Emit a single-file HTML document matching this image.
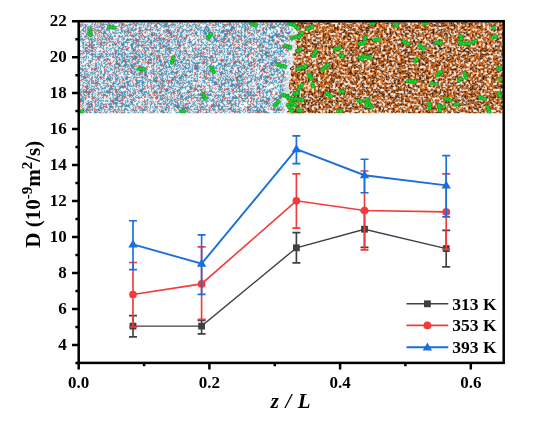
<!DOCTYPE html>
<html lang="en"><head><meta charset="utf-8"><title>D vs z / L</title>
<style>html,body{margin:0;padding:0;background:#fff}svg{display:block}</style></head>
<body>
<svg width="550" height="422" viewBox="0 0 550 422">
<rect x="0" y="0" width="550" height="422" fill="#ffffff"/>
<filter id="fw" x="0" y="0" width="1" height="1" color-interpolation-filters="sRGB"><feTurbulence type="fractalNoise" baseFrequency="0.66" numOctaves="1" seed="3"/><feColorMatrix type="matrix" values="1 0 0 0 0 1 0 0 0 0 1 0 0 0 0 0 0 0 0 1"/><feComponentTransfer><feFuncR type="discrete" tableValues="0.14 0.14 0.14 0.14 0.14 0.14 0.14 0.14 0.14 0.14 0.14 0.14 0.14 0.14 0.14 0.14 0.14 0.14 0.14 0.14 0.14 0.14 0.14 0.14 0.14 0.14 0.14 0.14 0.14 0.14 0.14 0.14 0.14 0.14 0.14 0.14 0.14 0.14 0.14 0.14 0.14 0.14 0.14 0.14 0.14 0.24 1 1 1 1 1 1 1 1 1 1 1 1 1 1 0.97 0.85 0.85 0.85 0.85 0.85 0.85 0.85 0.85 0.85 0.85 0.85 0.85 0.85 0.85 0.85 0.85 0.85 0.85 0.85 0.85 0.85 0.85 0.85 0.85 0.85 0.85 0.85 0.85 0.85 0.85 0.85 0.85 0.85 0.85 0.85 0.85 0.85 0.85 0.85"/><feFuncG type="discrete" tableValues="0.58 0.58 0.58 0.58 0.58 0.58 0.58 0.58 0.58 0.58 0.58 0.58 0.58 0.58 0.58 0.58 0.58 0.58 0.58 0.58 0.58 0.58 0.58 0.58 0.58 0.58 0.58 0.58 0.58 0.58 0.58 0.58 0.58 0.58 0.58 0.58 0.58 0.58 0.58 0.58 0.58 0.58 0.58 0.58 0.58 0.63 1 1 1 1 1 1 1 1 1 1 1 1 1 1 0.85 0.29 0.29 0.29 0.29 0.29 0.29 0.29 0.29 0.29 0.29 0.29 0.29 0.29 0.29 0.29 0.29 0.29 0.29 0.29 0.29 0.29 0.29 0.29 0.29 0.29 0.29 0.29 0.29 0.29 0.29 0.29 0.29 0.29 0.29 0.29 0.29 0.29 0.29 0.29"/><feFuncB type="discrete" tableValues="0.75 0.75 0.75 0.75 0.75 0.75 0.75 0.75 0.75 0.75 0.75 0.75 0.75 0.75 0.75 0.75 0.75 0.75 0.75 0.75 0.75 0.75 0.75 0.75 0.75 0.75 0.75 0.75 0.75 0.75 0.75 0.75 0.75 0.75 0.75 0.75 0.75 0.75 0.75 0.75 0.75 0.75 0.75 0.75 0.75 0.78 1 1 1 1 1 1 1 1 1 1 1 1 1 1 0.84 0.27 0.27 0.27 0.27 0.27 0.27 0.27 0.27 0.27 0.27 0.27 0.27 0.27 0.27 0.27 0.27 0.27 0.27 0.27 0.27 0.27 0.27 0.27 0.27 0.27 0.27 0.27 0.27 0.27 0.27 0.27 0.27 0.27 0.27 0.27 0.27 0.27 0.27 0.27"/></feComponentTransfer><feConvolveMatrix order="3" preserveAlpha="true" edgeMode="duplicate" kernelMatrix="0.036 0.084 0.036 0.084 0.520 0.084 0.036 0.084 0.036"/></filter>
<filter id="fo" x="0" y="0" width="1" height="1" color-interpolation-filters="sRGB"><feTurbulence type="fractalNoise" baseFrequency="0.72" numOctaves="1" seed="11"/><feColorMatrix type="matrix" values="1 0 0 0 0 1 0 0 0 0 1 0 0 0 0 0 0 0 0 1"/><feComponentTransfer result="A"><feFuncR type="discrete" tableValues="0.09 0.09 0.09 0.09 0.09 0.09 0.09 0.09 0.09 0.09 0.09 0.09 0.09 0.09 0.09 0.09 0.09 0.09 0.09 0.09 0.09 0.09 0.09 0.09 0.09 0.09 0.09 0.09 0.09 0.09 0.09 0.09 0.09 0.09 0.09 0.09 0.09 0.09 0.09 0.09 0.09 0.09 0.09 0.52 1 1 1 1 1 1 1 1 1 1 1 1 1 1 1 1 1 1 1 1 1 1 1 1 1 1 1 1 1 1 1 1 1 1 1 1 1 1 1 1 1 1 1 1 1 1 1 1 1 1 1 1 1 1 1 1"/><feFuncG type="discrete" tableValues="0.06 0.06 0.06 0.06 0.06 0.06 0.06 0.06 0.06 0.06 0.06 0.06 0.06 0.06 0.06 0.06 0.06 0.06 0.06 0.06 0.06 0.06 0.06 0.06 0.06 0.06 0.06 0.06 0.06 0.06 0.06 0.06 0.06 0.06 0.06 0.06 0.06 0.06 0.06 0.06 0.06 0.06 0.06 0.5 1 1 1 1 1 1 1 1 1 1 1 1 1 1 1 1 1 1 1 1 1 1 1 1 1 1 1 1 1 1 1 1 1 1 1 1 1 1 1 1 1 1 1 1 1 1 1 1 1 1 1 1 1 1 1 1"/><feFuncB type="discrete" tableValues="0.03 0.03 0.03 0.03 0.03 0.03 0.03 0.03 0.03 0.03 0.03 0.03 0.03 0.03 0.03 0.03 0.03 0.03 0.03 0.03 0.03 0.03 0.03 0.03 0.03 0.03 0.03 0.03 0.03 0.03 0.03 0.03 0.03 0.03 0.03 0.03 0.03 0.03 0.03 0.03 0.03 0.03 0.03 0.49 1 1 1 1 1 1 1 1 1 1 1 1 1 1 1 1 1 1 1 1 1 1 1 1 1 1 1 1 1 1 1 1 1 1 1 1 1 1 1 1 1 1 1 1 1 1 1 1 1 1 1 1 1 1 1 1"/></feComponentTransfer><feTurbulence type="fractalNoise" baseFrequency="0.48" numOctaves="1" seed="5"/><feColorMatrix type="matrix" values="1 0 0 0 0 1 0 0 0 0 1 0 0 0 0 0 0 0 0 1" result="nB"/><feComponentTransfer in="nB" result="B"><feFuncR type="discrete" tableValues="0.84 0.84 0.84 0.84 0.84 0.84 0.84 0.84 0.84 0.84 0.84 0.84 0.84 0.84 0.84 0.84 0.84 0.84 0.84 0.84 0.84 0.84 0.84 0.84 0.84 0.84 0.84 0.84 0.84 0.84 0.84 0.84 0.84 0.84 0.84 0.84 0.84 0.84 0.84 0.84 0.84 0.84 0.84 0.84 0.84 0.84 0.84 0.84 0.84 0.84 0.84 0.84 0.84 0.84 0.84 0.95 1 1 1 1 1 1 1 1 1 1 1 1 1 1 1 1 1 1 1 1 1 1 1 1 1 1 1 1 1 1 1 1 1 1 1 1 1 1 1 1 1 1 1 1"/><feFuncG type="discrete" tableValues="0.42 0.42 0.42 0.42 0.42 0.42 0.42 0.42 0.42 0.42 0.42 0.42 0.42 0.42 0.42 0.42 0.42 0.42 0.42 0.42 0.42 0.42 0.42 0.42 0.42 0.42 0.42 0.42 0.42 0.42 0.42 0.42 0.42 0.42 0.42 0.42 0.42 0.42 0.42 0.42 0.42 0.42 0.42 0.42 0.42 0.42 0.42 0.42 0.42 0.42 0.42 0.42 0.42 0.42 0.42 0.83 1 1 1 1 1 1 1 1 1 1 1 1 1 1 1 1 1 1 1 1 1 1 1 1 1 1 1 1 1 1 1 1 1 1 1 1 1 1 1 1 1 1 1 1"/><feFuncB type="discrete" tableValues="0.12 0.12 0.12 0.12 0.12 0.12 0.12 0.12 0.12 0.12 0.12 0.12 0.12 0.12 0.12 0.12 0.12 0.12 0.12 0.12 0.12 0.12 0.12 0.12 0.12 0.12 0.12 0.12 0.12 0.12 0.12 0.12 0.12 0.12 0.12 0.12 0.12 0.12 0.12 0.12 0.12 0.12 0.12 0.12 0.12 0.12 0.12 0.12 0.12 0.12 0.12 0.12 0.12 0.12 0.12 0.74 1 1 1 1 1 1 1 1 1 1 1 1 1 1 1 1 1 1 1 1 1 1 1 1 1 1 1 1 1 1 1 1 1 1 1 1 1 1 1 1 1 1 1 1"/></feComponentTransfer><feComponentTransfer in="nB" result="M"><feFuncR type="discrete" tableValues="0 0 0 0 0 0 0 0 0 0 0 0 0 0 0 0 0 0 0 0 0 0 0 0 0 0 0 0 0 0 0 0 0 0 0 0 0 0 0 0 0 0 0 0 0 0 0 0 0 0 0 0 0 0 0 0 0 0 0 0.78 1 1 1 1 1 1 1 1 1 1 1 1 1 1 1 1 1 1 1 1 1 1 1 1 1 1 1 1 1 1 1 1 1 1 1 1 1 1 1 1"/><feFuncG type="discrete" tableValues="0 0 0 0 0 0 0 0 0 0 0 0 0 0 0 0 0 0 0 0 0 0 0 0 0 0 0 0 0 0 0 0 0 0 0 0 0 0 0 0 0 0 0 0 0 0 0 0 0 0 0 0 0 0 0 0 0 0 0 0.78 1 1 1 1 1 1 1 1 1 1 1 1 1 1 1 1 1 1 1 1 1 1 1 1 1 1 1 1 1 1 1 1 1 1 1 1 1 1 1 1"/><feFuncB type="discrete" tableValues="0 0 0 0 0 0 0 0 0 0 0 0 0 0 0 0 0 0 0 0 0 0 0 0 0 0 0 0 0 0 0 0 0 0 0 0 0 0 0 0 0 0 0 0 0 0 0 0 0 0 0 0 0 0 0 0 0 0 0 0.78 1 1 1 1 1 1 1 1 1 1 1 1 1 1 1 1 1 1 1 1 1 1 1 1 1 1 1 1 1 1 1 1 1 1 1 1 1 1 1 1"/></feComponentTransfer><feBlend in="A" in2="B" mode="multiply" result="AB"/><feBlend in="AB" in2="M" mode="lighten"/><feConvolveMatrix order="3" preserveAlpha="true" edgeMode="duplicate" kernelMatrix="0.037 0.087 0.037 0.087 0.500 0.087 0.037 0.087 0.037"/></filter>
<clipPath id="co"><polygon points="296.1,20.2 293.7,22.2 293.7,24.2 295.2,26.2 295.0,28.2 296.1,30.2 298.3,32.2 297.4,34.2 295.6,36.2 296.1,38.2 295.5,40.2 294.4,42.2 296.1,44.2 297.3,46.2 295.7,48.2 295.2,50.2 294.9,52.2 292.6,54.2 292.2,56.2 294.1,58.2 293.8,60.2 293.0,62.2 293.6,64.2 292.1,66.2 289.7,68.2 290.4,70.2 291.3,72.2 290.6,74.2 291.5,76.2 292.1,78.2 289.6,80.2 288.4,82.2 289.2,84.2 288.6,86.2 288.6,88.2 290.7,90.2 290.3,92.2 288.2,94.2 288.2,96.2 287.8,98.2 286.5,100.2 288.0,102.2 289.8,104.2 288.7,106.2 288.2,108.2 288.5,110.2 286.6,112.2 285.9,114.2 288.2,116.2 288.3,116.3 506.0,116.3 506.0,19.2"/></clipPath>
<clipPath id="cp"><rect x="79.5" y="22.2" width="423.5" height="91.1"/></clipPath>
<g clip-path="url(#cp)">
<rect x="78" y="20" width="224" height="96" fill="#a8bac6" filter="url(#fw)"/>
<polyline points="296.1,20.2 293.7,22.2 293.7,24.2 295.2,26.2 295.0,28.2 296.1,30.2 298.3,32.2 297.4,34.2 295.6,36.2 296.1,38.2 295.5,40.2 294.4,42.2 296.1,44.2 297.3,46.2 295.7,48.2 295.2,50.2 294.9,52.2 292.6,54.2 292.2,56.2 294.1,58.2 293.8,60.2 293.0,62.2 293.6,64.2 292.1,66.2 289.7,68.2 290.4,70.2 291.3,72.2 290.6,74.2 291.5,76.2 292.1,78.2 289.6,80.2 288.4,82.2 289.2,84.2 288.6,86.2 288.6,88.2 290.7,90.2 290.3,92.2 288.2,94.2 288.2,96.2 287.8,98.2 286.5,100.2 288.0,102.2 289.8,104.2 288.7,106.2 288.2,108.2 288.5,110.2 286.6,112.2 285.9,114.2 288.2,116.2" fill="none" stroke="#fff" stroke-opacity="0.42" stroke-width="11"/>
<polyline points="296.1,20.2 293.7,22.2 293.7,24.2 295.2,26.2 295.0,28.2 296.1,30.2 298.3,32.2 297.4,34.2 295.6,36.2 296.1,38.2 295.5,40.2 294.4,42.2 296.1,44.2 297.3,46.2 295.7,48.2 295.2,50.2 294.9,52.2 292.6,54.2 292.2,56.2 294.1,58.2 293.8,60.2 293.0,62.2 293.6,64.2 292.1,66.2 289.7,68.2 290.4,70.2 291.3,72.2 290.6,74.2 291.5,76.2 292.1,78.2 289.6,80.2 288.4,82.2 289.2,84.2 288.6,86.2 288.6,88.2 290.7,90.2 290.3,92.2 288.2,94.2 288.2,96.2 287.8,98.2 286.5,100.2 288.0,102.2 289.8,104.2 288.7,106.2 288.2,108.2 288.5,110.2 286.6,112.2 285.9,114.2 288.2,116.2" fill="none" stroke="#fff" stroke-opacity="0.5" stroke-width="5"/>
<g clip-path="url(#co)"><rect x="284" y="20" width="222" height="96" fill="#ad8353" filter="url(#fo)"/></g>
</g>
<g fill="#16dc2c" stroke="#128c22" stroke-width="0.6" clip-path="url(#cp)">
<circle cx="90.4" cy="29.9" r="1.9"/>
<circle cx="90.4" cy="32.4" r="1.9"/>
<circle cx="90.4" cy="34.9" r="1.9"/>
<circle cx="109.4" cy="27.2" r="1.9"/>
<circle cx="111.8" cy="27.4" r="1.9"/>
<circle cx="114.2" cy="27.6" r="1.9"/>
<circle cx="139.1" cy="68.9" r="1.9"/>
<circle cx="141.5" cy="69.1" r="1.9"/>
<circle cx="143.9" cy="69.3" r="1.9"/>
<circle cx="79.9" cy="112.6" r="1.9"/>
<circle cx="82.1" cy="111.4" r="1.9"/>
<circle cx="208.2" cy="38.2" r="1.9"/>
<circle cx="209.6" cy="36.2" r="1.9"/>
<circle cx="211.0" cy="34.2" r="1.9"/>
<circle cx="171.9" cy="62.5" r="1.9"/>
<circle cx="172.5" cy="60.1" r="1.9"/>
<circle cx="173.1" cy="57.7" r="1.9"/>
<circle cx="211.6" cy="67.8" r="1.9"/>
<circle cx="212.6" cy="70.0" r="1.9"/>
<circle cx="213.6" cy="72.2" r="1.9"/>
<circle cx="202.8" cy="94.4" r="1.9"/>
<circle cx="204.0" cy="96.5" r="1.9"/>
<circle cx="205.2" cy="98.6" r="1.9"/>
<circle cx="181.4" cy="111.5" r="1.9"/>
<circle cx="183.8" cy="111.5" r="1.9"/>
<circle cx="251.4" cy="23.3" r="1.9"/>
<circle cx="253.5" cy="24.5" r="1.9"/>
<circle cx="255.6" cy="25.7" r="1.9"/>
<circle cx="278.0" cy="64.7" r="1.9"/>
<circle cx="280.3" cy="65.4" r="1.9"/>
<circle cx="282.7" cy="66.0" r="1.9"/>
<circle cx="285.0" cy="66.7" r="1.9"/>
<circle cx="275.0" cy="105.2" r="1.9"/>
<circle cx="276.7" cy="103.5" r="1.9"/>
<circle cx="278.4" cy="101.8" r="1.9"/>
<circle cx="285.4" cy="45.8" r="1.9"/>
<circle cx="287.7" cy="46.6" r="1.9"/>
<circle cx="290.0" cy="47.4" r="1.9"/>
<circle cx="288.6" cy="23.6" r="1.9"/>
<circle cx="291.0" cy="24.0" r="1.9"/>
<circle cx="293.4" cy="24.4" r="1.9"/>
<circle cx="294.1" cy="25.2" r="1.9"/>
<circle cx="296.0" cy="26.8" r="1.9"/>
<circle cx="297.9" cy="28.4" r="1.9"/>
<circle cx="291.7" cy="38.3" r="1.9"/>
<circle cx="294.0" cy="37.5" r="1.9"/>
<circle cx="296.3" cy="36.7" r="1.9"/>
<circle cx="298.9" cy="36.9" r="1.9"/>
<circle cx="300.5" cy="35.0" r="1.9"/>
<circle cx="302.1" cy="33.1" r="1.9"/>
<circle cx="298.1" cy="50.4" r="1.9"/>
<circle cx="300.3" cy="49.2" r="1.9"/>
<circle cx="282.6" cy="95.1" r="1.9"/>
<circle cx="285.0" cy="95.5" r="1.9"/>
<circle cx="287.4" cy="95.9" r="1.9"/>
<circle cx="287.5" cy="97.2" r="1.9"/>
<circle cx="289.8" cy="98.1" r="1.9"/>
<circle cx="292.2" cy="98.9" r="1.9"/>
<circle cx="294.5" cy="99.8" r="1.9"/>
<circle cx="295.4" cy="98.9" r="1.9"/>
<circle cx="297.8" cy="99.3" r="1.9"/>
<circle cx="300.2" cy="99.7" r="1.9"/>
<circle cx="302.6" cy="100.1" r="1.9"/>
<circle cx="290.9" cy="102.8" r="1.9"/>
<circle cx="293.0" cy="104.0" r="1.9"/>
<circle cx="295.1" cy="105.2" r="1.9"/>
<circle cx="287.9" cy="104.9" r="1.9"/>
<circle cx="289.1" cy="107.1" r="1.9"/>
<circle cx="291.3" cy="108.3" r="1.9"/>
<circle cx="291.7" cy="110.7" r="1.9"/>
<circle cx="298.2" cy="110.5" r="1.9"/>
<circle cx="300.6" cy="110.5" r="1.9"/>
<circle cx="294.8" cy="93.7" r="1.9"/>
<circle cx="297.2" cy="93.3" r="1.9"/>
<circle cx="307.8" cy="29.0" r="1.9"/>
<circle cx="310.0" cy="28.0" r="1.9"/>
<circle cx="312.2" cy="27.0" r="1.9"/>
<circle cx="313.3" cy="55.6" r="1.9"/>
<circle cx="314.5" cy="53.5" r="1.9"/>
<circle cx="315.7" cy="51.4" r="1.9"/>
<circle cx="334.9" cy="49.0" r="1.9"/>
<circle cx="337.3" cy="48.6" r="1.9"/>
<circle cx="339.7" cy="48.2" r="1.9"/>
<circle cx="340.3" cy="55.4" r="1.9"/>
<circle cx="342.7" cy="56.2" r="1.9"/>
<circle cx="359.7" cy="43.6" r="1.9"/>
<circle cx="362.1" cy="43.6" r="1.9"/>
<circle cx="359.8" cy="57.7" r="1.9"/>
<circle cx="362.0" cy="58.9" r="1.9"/>
<circle cx="297.8" cy="68.9" r="1.9"/>
<circle cx="300.2" cy="68.1" r="1.9"/>
<circle cx="303.1" cy="67.1" r="1.9"/>
<circle cx="305.3" cy="65.9" r="1.9"/>
<circle cx="322.5" cy="69.4" r="1.9"/>
<circle cx="324.5" cy="68.0" r="1.9"/>
<circle cx="326.5" cy="66.6" r="1.9"/>
<circle cx="308.8" cy="74.4" r="1.9"/>
<circle cx="310.0" cy="76.5" r="1.9"/>
<circle cx="311.2" cy="78.6" r="1.9"/>
<circle cx="312.6" cy="83.8" r="1.9"/>
<circle cx="313.0" cy="86.2" r="1.9"/>
<circle cx="298.7" cy="88.9" r="1.9"/>
<circle cx="300.3" cy="87.0" r="1.9"/>
<circle cx="301.9" cy="85.1" r="1.9"/>
<circle cx="327.1" cy="93.3" r="1.9"/>
<circle cx="329.0" cy="94.8" r="1.9"/>
<circle cx="330.9" cy="96.3" r="1.9"/>
<circle cx="340.6" cy="91.6" r="1.9"/>
<circle cx="343.0" cy="91.6" r="1.9"/>
<circle cx="338.3" cy="111.0" r="1.9"/>
<circle cx="340.7" cy="111.0" r="1.9"/>
<circle cx="358.6" cy="100.6" r="1.9"/>
<circle cx="361.0" cy="101.4" r="1.9"/>
<circle cx="326.1" cy="66.5" r="1.9"/>
<circle cx="327.9" cy="64.9" r="1.9"/>
<circle cx="370.9" cy="23.4" r="1.9"/>
<circle cx="373.3" cy="23.4" r="1.9"/>
<circle cx="394.6" cy="24.6" r="1.9"/>
<circle cx="397.0" cy="25.4" r="1.9"/>
<circle cx="423.8" cy="23.4" r="1.9"/>
<circle cx="426.2" cy="23.4" r="1.9"/>
<circle cx="365.4" cy="37.6" r="1.9"/>
<circle cx="365.0" cy="40.0" r="1.9"/>
<circle cx="364.6" cy="42.4" r="1.9"/>
<circle cx="374.2" cy="39.8" r="1.9"/>
<circle cx="376.6" cy="39.8" r="1.9"/>
<circle cx="379.1" cy="39.8" r="1.9"/>
<circle cx="403.8" cy="41.3" r="1.9"/>
<circle cx="405.9" cy="42.5" r="1.9"/>
<circle cx="408.0" cy="43.7" r="1.9"/>
<circle cx="419.7" cy="45.4" r="1.9"/>
<circle cx="421.6" cy="47.0" r="1.9"/>
<circle cx="423.5" cy="48.6" r="1.9"/>
<circle cx="363.3" cy="56.1" r="1.9"/>
<circle cx="365.6" cy="56.8" r="1.9"/>
<circle cx="368.0" cy="57.4" r="1.9"/>
<circle cx="370.3" cy="58.1" r="1.9"/>
<circle cx="415.2" cy="61.4" r="1.9"/>
<circle cx="416.8" cy="59.6" r="1.9"/>
<circle cx="407.8" cy="81.0" r="1.9"/>
<circle cx="410.3" cy="81.1" r="1.9"/>
<circle cx="412.7" cy="81.3" r="1.9"/>
<circle cx="415.2" cy="81.4" r="1.9"/>
<circle cx="366.8" cy="99.4" r="1.9"/>
<circle cx="368.0" cy="101.5" r="1.9"/>
<circle cx="369.2" cy="103.6" r="1.9"/>
<circle cx="370.2" cy="105.6" r="1.9"/>
<circle cx="371.8" cy="107.4" r="1.9"/>
<circle cx="366.5" cy="103.3" r="1.9"/>
<circle cx="366.5" cy="105.7" r="1.9"/>
<circle cx="429.3" cy="103.1" r="1.9"/>
<circle cx="429.5" cy="105.5" r="1.9"/>
<circle cx="429.7" cy="107.9" r="1.9"/>
<circle cx="431.8" cy="83.0" r="1.9"/>
<circle cx="493.6" cy="27.9" r="1.9"/>
<circle cx="493.1" cy="37.3" r="1.9"/>
<circle cx="495.5" cy="36.5" r="1.9"/>
<circle cx="460.8" cy="36.3" r="1.9"/>
<circle cx="461.2" cy="38.7" r="1.9"/>
<circle cx="459.2" cy="42.2" r="1.9"/>
<circle cx="461.5" cy="43.0" r="1.9"/>
<circle cx="463.8" cy="43.8" r="1.9"/>
<circle cx="466.8" cy="43.6" r="1.9"/>
<circle cx="469.2" cy="43.6" r="1.9"/>
<circle cx="473.4" cy="42.0" r="1.9"/>
<circle cx="475.6" cy="40.8" r="1.9"/>
<circle cx="436.1" cy="42.5" r="1.9"/>
<circle cx="438.5" cy="42.5" r="1.9"/>
<circle cx="440.9" cy="42.5" r="1.9"/>
<circle cx="498.1" cy="68.2" r="1.9"/>
<circle cx="500.5" cy="68.6" r="1.9"/>
<circle cx="437.1" cy="75.2" r="1.9"/>
<circle cx="439.0" cy="73.6" r="1.9"/>
<circle cx="440.9" cy="72.0" r="1.9"/>
<circle cx="464.7" cy="73.2" r="1.9"/>
<circle cx="465.5" cy="75.5" r="1.9"/>
<circle cx="466.3" cy="77.8" r="1.9"/>
<circle cx="459.0" cy="80.4" r="1.9"/>
<circle cx="460.8" cy="78.8" r="1.9"/>
<circle cx="500.4" cy="79.6" r="1.9"/>
<circle cx="436.3" cy="84.1" r="1.9"/>
<circle cx="498.7" cy="93.2" r="1.9"/>
<circle cx="499.9" cy="95.4" r="1.9"/>
<circle cx="480.2" cy="97.4" r="1.9"/>
<circle cx="482.5" cy="98.2" r="1.9"/>
<circle cx="484.8" cy="99.0" r="1.9"/>
<circle cx="445.7" cy="98.7" r="1.9"/>
<circle cx="448.0" cy="99.5" r="1.9"/>
<circle cx="450.3" cy="100.3" r="1.9"/>
<circle cx="455.3" cy="104.8" r="1.9"/>
<circle cx="457.7" cy="104.0" r="1.9"/>
<circle cx="439.1" cy="105.6" r="1.9"/>
<circle cx="439.5" cy="108.0" r="1.9"/>
<circle cx="439.9" cy="110.4" r="1.9"/>
<circle cx="444.0" cy="106.6" r="1.9"/>
<circle cx="487.9" cy="107.1" r="1.9"/>
<circle cx="488.5" cy="109.5" r="1.9"/>
<circle cx="489.1" cy="111.9" r="1.9"/>
</g>
<g stroke="#404040" fill="none">
<path stroke-width="1.65" d="M133.0 315.6V336.9M129.0 315.6h8M129.0 336.9h8M201.6 320.5V333.9M197.6 320.5h8M197.6 333.9h8M296.4 232.6V262.9M292.4 232.6h8M292.4 262.9h8M364.5 211.2V247.4M360.5 211.2h8M360.5 247.4h8M446.2 230.4V266.8M442.2 230.4h8M442.2 266.8h8"/>
<polyline stroke-width="1.4" points="133.0,326.1 201.6,326.1 296.4,247.8 364.5,229.2 446.2,248.6"/>
</g>
<rect x="129.6" y="322.7" width="6.8" height="6.8" fill="#404040"/>
<rect x="198.2" y="322.7" width="6.8" height="6.8" fill="#404040"/>
<rect x="293.0" y="244.4" width="6.8" height="6.8" fill="#404040"/>
<rect x="361.1" y="225.8" width="6.8" height="6.8" fill="#404040"/>
<rect x="442.8" y="245.2" width="6.8" height="6.8" fill="#404040"/>
<g stroke="#f23a3a" fill="none">
<path stroke-width="1.65" d="M133.0 262.5V326.9M129.0 262.5h8M129.0 326.9h8M201.6 246.9V319.4M197.6 246.9h8M197.6 319.4h8M296.4 173.8V228.1M292.4 173.8h8M292.4 228.1h8M364.5 171.0V249.8M360.5 171.0h8M360.5 249.8h8M446.2 173.8V249.3M442.2 173.8h8M442.2 249.3h8"/>
<polyline stroke-width="1.6" points="133.0,294.5 201.6,283.9 296.4,200.8 364.5,210.5 446.2,211.9"/>
</g>
<circle cx="133.0" cy="294.5" r="3.85" fill="#f23a3a"/>
<circle cx="201.6" cy="283.9" r="3.85" fill="#f23a3a"/>
<circle cx="296.4" cy="200.8" r="3.85" fill="#f23a3a"/>
<circle cx="364.5" cy="210.5" r="3.85" fill="#f23a3a"/>
<circle cx="446.2" cy="211.9" r="3.85" fill="#f23a3a"/>
<g stroke="#1a6fdc" fill="none">
<path stroke-width="1.65" d="M133.0 220.7V269.6M129.0 220.7h8M129.0 269.6h8M201.6 234.8V294.4M197.6 234.8h8M197.6 294.4h8M296.4 135.9V163.6M292.4 135.9h8M292.4 163.6h8M364.5 159.2V192.7M360.5 159.2h8M360.5 192.7h8M446.2 155.6V216.8M442.2 155.6h8M442.2 216.8h8"/>
<polyline stroke-width="1.9" points="133.0,244.4 201.6,263.7 296.4,149.2 364.5,175.2 446.2,185.4"/>
</g>
<path d="M133.0 239.5L137.7 247.5L128.3 247.5Z" fill="#1a6fdc"/>
<path d="M201.6 258.8L206.3 266.8L196.9 266.8Z" fill="#1a6fdc"/>
<path d="M296.4 144.3L301.1 152.3L291.7 152.3Z" fill="#1a6fdc"/>
<path d="M364.5 170.3L369.2 178.3L359.8 178.3Z" fill="#1a6fdc"/>
<path d="M446.2 180.5L450.9 188.5L441.5 188.5Z" fill="#1a6fdc"/>
<g stroke="#000" stroke-width="2.5" fill="none">
<rect x="78.7" y="21.2" width="425.0" height="341.7"/>
<path d="M78.7 344.9h-6.7M78.7 308.9h-6.7M78.7 273.0h-6.7M78.7 237.0h-6.7M78.7 201.0h-6.7M78.7 165.1h-6.7M78.7 129.1h-6.7M78.7 93.1h-6.7M78.7 57.2h-6.7M78.7 21.2h-6.7M78.7 362.9h-3.3M78.7 326.9h-3.3M78.7 291.0h-3.3M78.7 255.0h-3.3M78.7 219.0h-3.3M78.7 183.1h-3.3M78.7 147.1h-3.3M78.7 111.1h-3.3M78.7 75.2h-3.3M78.7 39.2h-3.3M78.7 362.9v6.7M209.4 362.9v6.7M340.1 362.9v6.7M470.8 362.9v6.7M144.1 362.9v3.3M274.8 362.9v3.3M405.4 362.9v3.3"/>
</g>
<g font-family="'Liberation Serif', 'Times New Roman', serif" font-weight="bold" font-size="17px" fill="#000">
<text x="66.8" y="349.7" text-anchor="end">4</text>
<text x="66.8" y="313.7" text-anchor="end">6</text>
<text x="66.8" y="277.8" text-anchor="end">8</text>
<text x="66.8" y="241.8" text-anchor="end">10</text>
<text x="66.8" y="205.8" text-anchor="end">12</text>
<text x="66.8" y="169.9" text-anchor="end">14</text>
<text x="66.8" y="133.9" text-anchor="end">16</text>
<text x="66.8" y="97.9" text-anchor="end">18</text>
<text x="66.8" y="62.0" text-anchor="end">20</text>
<text x="66.8" y="26.0" text-anchor="end">22</text>
<text x="78.7" y="388.3" text-anchor="middle">0.0</text>
<text x="209.4" y="388.3" text-anchor="middle">0.2</text>
<text x="340.1" y="388.3" text-anchor="middle">0.4</text>
<text x="470.8" y="388.3" text-anchor="middle">0.6</text>
</g>
<text font-family="'Liberation Serif', 'Times New Roman', serif" font-weight="bold" font-size="21px" text-anchor="middle" transform="translate(39.9 194.2) rotate(-90)">D (10<tspan font-size="15px" dy="-8.4">-9</tspan><tspan dy="8.4">m</tspan><tspan font-size="15px" dy="-8.4">2</tspan><tspan dy="8.4">/s)</tspan></text>
<text font-family="'Liberation Serif', 'Times New Roman', serif" font-weight="bold" font-size="21px" font-style="italic" text-anchor="middle" word-spacing="1.3" x="290.7" y="407.7">z / L</text>
<path d="M406.5 303.8H448.3" stroke="#404040" stroke-width="1.4"/>
<rect x="424.0" y="300.4" width="6.8" height="6.8" fill="#404040"/>
<text font-family="'Liberation Serif', 'Times New Roman', serif" font-weight="bold" font-size="17.5px" x="452.3" y="309.7">313 K</text>
<path d="M406.5 325.4H448.3" stroke="#f23a3a" stroke-width="1.6"/>
<circle cx="427.4" cy="325.4" r="3.85" fill="#f23a3a"/>
<text font-family="'Liberation Serif', 'Times New Roman', serif" font-weight="bold" font-size="17.5px" x="452.3" y="331.3">353 K</text>
<path d="M406.5 347.3H448.3" stroke="#1a6fdc" stroke-width="1.9"/>
<path d="M427.4 342.4L432.1 350.4L422.7 350.4Z" fill="#1a6fdc"/>
<text font-family="'Liberation Serif', 'Times New Roman', serif" font-weight="bold" font-size="17.5px" x="452.3" y="353.2">393 K</text>
</svg>
</body></html>
